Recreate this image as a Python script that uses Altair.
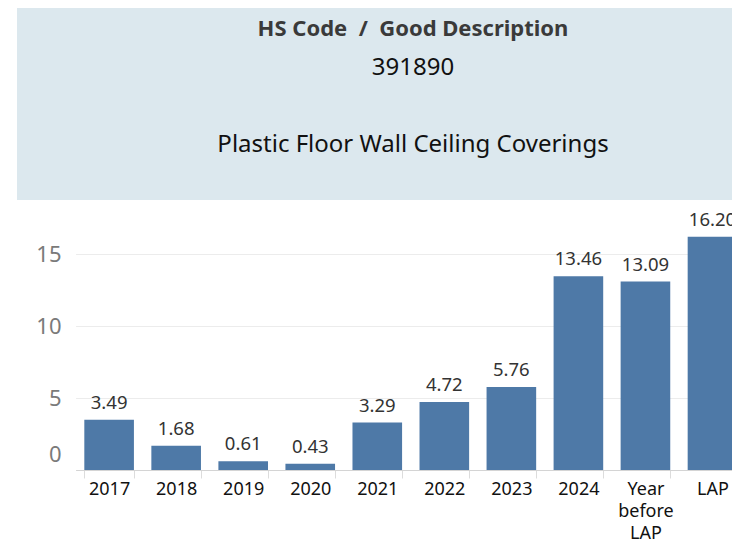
import altair as alt
import pandas as pd

FONT = "Noto Sans"

categories = ["2017", "2018", "2019", "2020", "2021", "2022", "2023", "2024",
              "Year before LAP", "LAP"]
values = [3.49, 1.68, 0.61, 0.43, 3.29, 4.72, 5.76, 13.46, 13.09, 16.20]
y_ticks = [0, 5, 10, 15]
header_title = "HS Code\u00a0\u00a0/\u00a0\u00a0Good Description"
header_code = "391890"
header_desc = "Plastic Floor Wall Ceiling Coverings"

df = pd.DataFrame({"cat": categories, "val": values})
df["label"] = [f"{v:.2f}" for v in values]
dummy = pd.DataFrame({"k": [0]})

x = alt.X(
    "cat:N", sort=categories, title=None,
    scale=alt.Scale(range=[9.6, 680], paddingInner=0.26, paddingOuter=0.13),
    axis=alt.Axis(labelAngle=0, labelExpr="split(datum.label, ' ')",
                  labelFontSize=18, labelColor="#111", labelFont=FONT,
                  labelLineHeight=22, labelPadding=2, tickBand="extent",
                  tickSize=8, tickColor="#dcdcdc", domainColor="#d4d4d4",
                  labelLimit=200, grid=False),
)
y = alt.Y(
    "val:Q", title=None,
    scale=alt.Scale(domain=[0, 17.5], nice=False),
    axis=alt.Axis(values=y_ticks, domain=False, ticks=False, labelFontSize=22,
                  labelColor="#7a7a7a", labelFont=FONT, labelFlush=True,
                  labelFlushOffset=-4, labelPadding=5, gridColor="#ececec"),
)

bars = alt.Chart(df).mark_bar(color="#4e79a7").encode(x=x, y=y)
labels = alt.Chart(df).mark_text(
    dy=-11, baseline="alphabetic", fontSize=18.5, color="#333", font=FONT
).encode(x=x, y=y, text="label:N")

header_rect = alt.Chart(dummy).mark_rect(color="#dce8ee").encode(
    x=alt.value(-49), x2=alt.value(720), y=alt.value(-210), y2=alt.value(-18)
)
t1 = alt.Chart(dummy).mark_text(
    text=header_title, font=FONT, fontSize=22, fontWeight="bold",
    color="#3a3a3a", baseline="middle", align="center"
).encode(x=alt.value(347), y=alt.value(-189))
t2 = alt.Chart(dummy).mark_text(
    text=header_code, font=FONT, fontSize=24, color="#111",
    baseline="middle", align="center"
).encode(x=alt.value(347), y=alt.value(-150))
t3 = alt.Chart(dummy).mark_text(
    text=header_desc, font=FONT, fontSize=24, color="#111",
    baseline="middle", align="center"
).encode(x=alt.value(347), y=alt.value(-73))

chart = alt.layer(header_rect, t1, t2, t3, bars, labels).properties(
    width=666, height=252,
    padding={"left": 58, "top": 210, "right": 0, "bottom": 72},
    autosize=alt.AutoSizeParams(type="none"),
).configure_view(stroke="transparent")

chart.save("out.html", embed_options={"renderer": "svg", "actions": False})
